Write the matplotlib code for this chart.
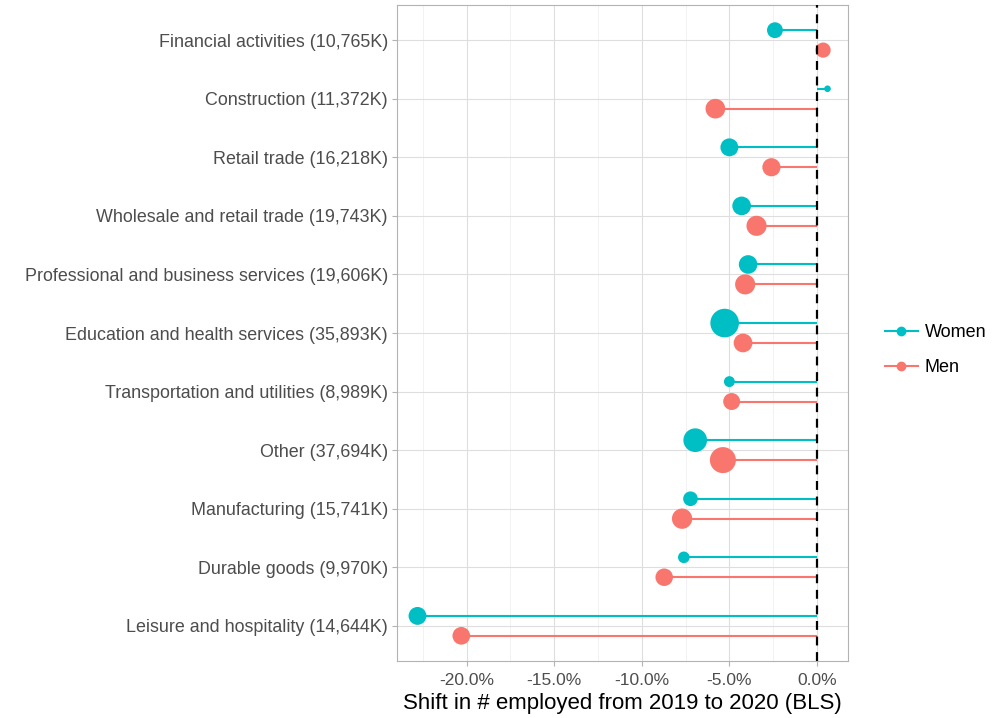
import numpy as np
import matplotlib
matplotlib.use("Agg")
import matplotlib.pyplot as plt
from matplotlib.lines import Line2D

plt.rcParams['font.family'] = ['Liberation Sans', 'DejaVu Sans']

# top to bottom as drawn
industries = ["Financial activities (10,765K)", "Construction (11,372K)",
              "Retail trade (16,218K)", "Wholesale and retail trade (19,743K)",
              "Professional and business services (19,606K)",
              "Education and health services (35,893K)",
              "Transportation and utilities (8,989K)", "Other (37,694K)",
              "Manufacturing (15,741K)", "Durable goods (9,970K)",
              "Leisure and hospitality (14,644K)"]
women_shift = [-2.4, 0.6, -5.0, -4.3, -3.93, -5.27, -5.0, -6.95, -7.22, -7.6, -22.8]
men_shift = [0.35, -5.8, -2.6, -3.45, -4.1, -4.22, -4.87, -5.37, -7.7, -8.72, -20.3]
# employed in 2019, thousands
women_count = [5700, 1170, 7950, 8900, 8800, 26800, 2160, 16600, 4600, 2500, 7900]
men_count = [5060, 10200, 8270, 10850, 10800, 9000, 6830, 21100, 11100, 7470, 7650]

WOMEN_COL = "#00BFC4"
MEN_COL = "#F8766D"

all_counts = np.array(women_count + men_count, dtype=float)
cmin, cmax = all_counts.min(), all_counts.max()


def size_of(counts):
    # radius in px, linear in sqrt of rescaled count, like ggplot's area scale
    c = np.array(counts, dtype=float)
    r_px = 3.3 + 11.0 * np.sqrt((c - cmin) / (cmax - cmin))
    d_pt = 2 * r_px * 72 / 100
    return d_pt ** 2


fig = plt.figure(figsize=(10.03, 7.18), dpi=100)
ax = fig.add_axes([397 / 1003, 1 - 661 / 718, 451 / 1003, 656 / 718])

n = len(industries)
ypos = np.arange(n)[::-1]
off = 0.17

ax.hlines(ypos + off, 0, women_shift, color=WOMEN_COL, lw=1.5, zorder=3)
ax.hlines(ypos - off, 0, men_shift, color=MEN_COL, lw=1.5, zorder=3)
ax.scatter(women_shift, ypos + off, s=size_of(women_count), color=WOMEN_COL,
           edgecolors='none', zorder=4)
ax.scatter(men_shift, ypos - off, s=size_of(men_count), color=MEN_COL,
           edgecolors='none', zorder=4)
ax.axvline(0, color='black', lw=1.6, ls=(0, (4, 3)), zorder=5)

lo = min(women_shift + men_shift)
hi = max(women_shift + men_shift)
pad = (hi - lo) * 0.05
ax.set_xlim(lo - pad, hi + pad)
ax.set_ylim(-0.6, n - 0.4)

ax.set_yticks(ypos)
ax.set_yticklabels(industries)
ax.set_xticks([-20, -15, -10, -5, 0])
ax.set_xticklabels(["-20.0%", "-15.0%", "-10.0%", "-5.0%", "0.0%"])
ax.set_xticks(np.arange(-22.5, 1, 5), minor=True)

ax.grid(True, which='major', color='#DEDEDE', lw=0.8, zorder=0)
ax.grid(True, which='minor', axis='x', color='#EDEDED', lw=0.5, zorder=0)
ax.set_axisbelow(True)
for sp in ax.spines.values():
    sp.set_color('#B3B3B3')
    sp.set_linewidth(0.8)
ax.tick_params(axis='both', which='major', colors='#B3B3B3', labelcolor='#4D4D4D',
               labelsize=12.5, length=3.5, width=0.8, pad=3)
ax.tick_params(axis='y', labelsize=12.9)
ax.tick_params(axis='x', pad=5)
ax.tick_params(axis='x', which='minor', length=0)

ax.set_xlabel("Shift in # employed from 2019 to 2020 (BLS)", fontsize=16,
              color='black', labelpad=4)

handles = [Line2D([0], [0], color=WOMEN_COL, lw=1.5, marker='o', markersize=6),
           Line2D([0], [0], color=MEN_COL, lw=1.5, marker='o', markersize=6)]
fig.legend(handles, ["Women", "Men"], loc='center left',
           bbox_to_anchor=(869 / 1003, 1 - 350 / 718), frameon=False,
           fontsize=13, handlelength=1.8, labelspacing=1.0, handletextpad=0.4)

fig.savefig("out.png", dpi=100)
